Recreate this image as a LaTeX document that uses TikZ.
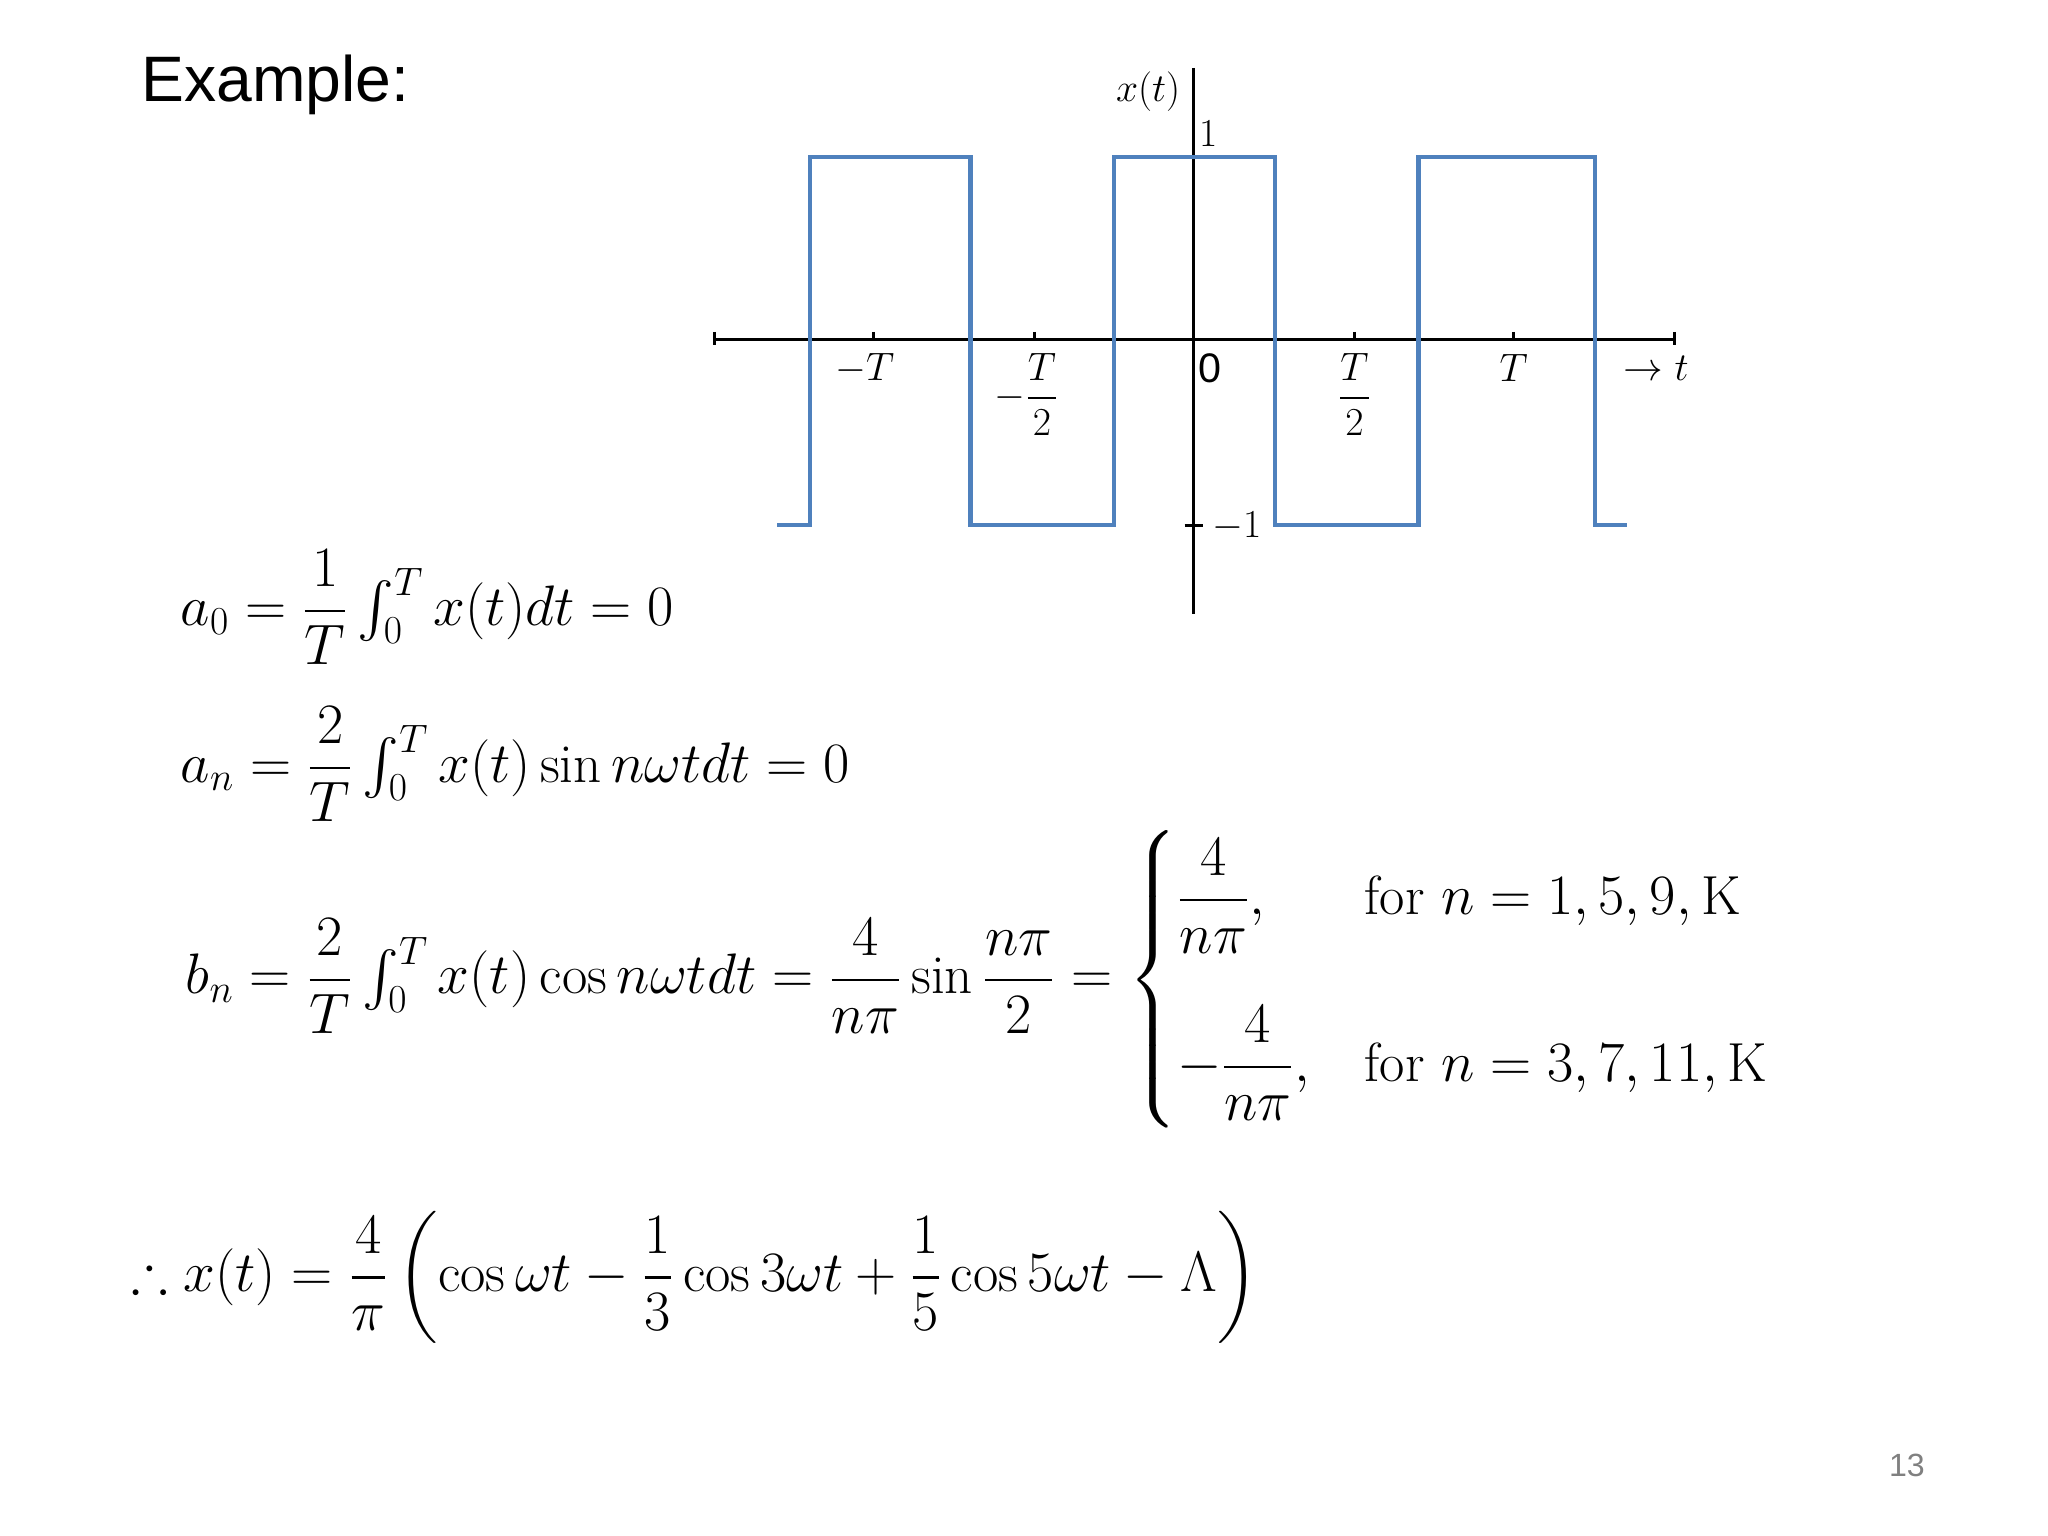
\documentclass[tikz,border=0pt]{standalone}
\usepackage{fontspec}
\usepackage{amsmath,amssymb}
\newfontfamily\lsans{Liberation Sans}
\begin{document}
\begin{tikzpicture}[x=0.02cm,y=-0.02cm,
  wave/.style={color={rgb,255:red,79;green,129;blue,189}, line width=1.8pt},
  ax/.style={line width=1.3pt},
  lab/.style={font=\fontsize{17}{20}\selectfont, inner sep=0pt},
  eq/.style={font=\fontsize{24}{29}\selectfont, anchor=west, inner sep=0pt}]
\useasboundingbox (0,0) rectangle (1568,1176);
% axes
\coordinate (xl) at (547,260); \coordinate (xr) at (1282,260);
\coordinate (yt) at (914,52); \coordinate (yb) at (914,470);
\draw[ax] (xl) -- (xr);
\draw[ax] (547,254) -- (547,264); \draw[ax] (1282,254) -- (1282,264);
\draw[ax] (yt) -- (yb);
\foreach \x in {669,792,1037,1159} \draw[ax] (\x,254) -- (\x,260);
\draw[ax] (907,402) -- (921,402);
% wave
\draw[wave] (595,402) -- (620,402) -- (620,120) -- (743,120) -- (743,402) -- (853,402) -- (853,120) -- (976,120) -- (976,402) -- (1086,402) -- (1086,120) -- (1221,120) -- (1221,402) -- (1246,402);
% labels
\node[lab] (lx) at (879,70) {$x(t)$};
\node[lab] (l1) at (925,102) {$1$};
\node[lab,font=\lsans\fontsize{18}{20}\selectfont] (l0) at (926,282) {0};
\node[lab] (lmT) at (662,282) {$-T$};
\node[lab] (lmT2) at (786,302) {$-\dfrac{T}{2}$};
\node[lab] (lT2) at (1037,302) {$\dfrac{T}{2}$};
\node[lab] (lT) at (1159,282) {$T$};
\node[lab] (lt) at (1268,282) {$\rightarrow t$};
\node[lab] (lm1) at (947,403) {$-1$};
% title
\node[anchor=west,inner sep=0pt,font=\lsans\fontsize{28}{32}\selectfont] (ex) at (108,65) {Example:};
% equations
\node[eq] (a0) at (138,465) {$a_0=\dfrac{1}{T}\int_0^T x(t)dt=0$};
\node[eq] (an) at (138,585) {$a_n=\dfrac{2}{T}\int_0^T x(t)\sin n\omega t dt=0$};
\node[eq] (bn) at (142,750) {$b_n=\dfrac{2}{T}\int_0^T x(t)\cos n\omega t dt=\dfrac{4}{n\pi}\sin\dfrac{n\pi}{2}=\left\{\begin{array}{@{}l@{\quad}l}\dfrac{4}{n\pi}, & \text{for } n=1,5,9,\mathrm{K}\\[3ex] -\dfrac{4}{n\pi}, & \text{for } n=3,7,11,\mathrm{K}\end{array}\right.$};
\node[eq] (xt) at (100,978) {$\therefore x(t)=\dfrac{4}{\pi}\left(\cos\omega t-\dfrac{1}{3}\cos 3\omega t+\dfrac{1}{5}\cos 5\omega t-\Lambda\vphantom{\dfrac{1}{3}}\right)$};
\node[inner sep=0pt,font=\lsans\fontsize{14}{16}\selectfont,text=gray] (pg) at (1460,1122) {13};
\end{tikzpicture}
\end{document}
